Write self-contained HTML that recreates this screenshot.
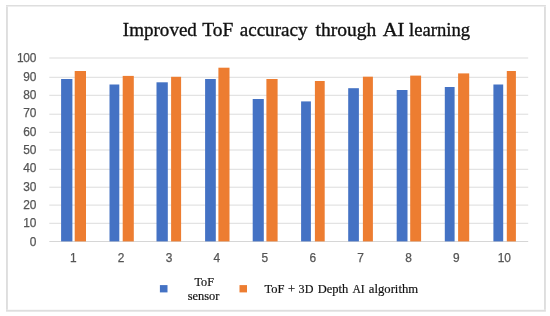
<!DOCTYPE html>
<html><head><meta charset="utf-8"><title>Improved ToF accuracy through AI learning</title>
<style>
html,body{margin:0;padding:0;background:#fff;}
body{width:550px;height:316px;position:relative;overflow:hidden;}
.yl{position:absolute;left:0;width:36px;text-align:right;letter-spacing:-0.25px;font:11.9px/12px "Liberation Sans",sans-serif;color:#555;-webkit-text-stroke:0.25px #555;height:12px;}
.xl{position:absolute;top:252.25px;width:30px;text-align:center;font:11.9px/12px "Liberation Sans",sans-serif;color:#555;-webkit-text-stroke:0.25px #555;height:12px;}
.t{position:absolute;white-space:nowrap;font-family:"Liberation Serif",serif;color:#111;}
.w{transform-origin:0 0;display:block;}
.title{font-size:19.2px;line-height:24px;-webkit-text-stroke:0.35px #111;}
.lg{font-size:13.4px;line-height:14px;-webkit-text-stroke:0.2px #111;}
</style></head><body>

<svg width="550" height="316" viewBox="0 0 550 316" style="position:absolute;left:0;top:0">
<rect x="6.00" y="5.00" width="539.90" height="1.50" fill="#dedede"/>
<rect x="6.00" y="309.80" width="539.90" height="1.90" fill="#dedede"/>
<rect x="6.00" y="6.50" width="1.90" height="303.30" fill="#dedede"/>
<rect x="544.00" y="6.50" width="1.90" height="303.30" fill="#dedede"/>
<rect x="49.30" y="57.50" width="478.90" height="1.00" fill="#dcdcdc"/>
<rect x="49.30" y="76.80" width="478.90" height="1.00" fill="#dcdcdc"/>
<rect x="49.30" y="94.80" width="478.90" height="1.00" fill="#dcdcdc"/>
<rect x="49.30" y="113.70" width="478.90" height="1.00" fill="#dcdcdc"/>
<rect x="49.30" y="131.80" width="478.90" height="1.00" fill="#dcdcdc"/>
<rect x="49.30" y="149.50" width="478.90" height="1.00" fill="#dcdcdc"/>
<rect x="49.30" y="168.80" width="478.90" height="1.00" fill="#dcdcdc"/>
<rect x="49.30" y="186.70" width="478.90" height="1.00" fill="#dcdcdc"/>
<rect x="49.30" y="204.60" width="478.90" height="1.00" fill="#dcdcdc"/>
<rect x="49.30" y="222.80" width="478.90" height="1.00" fill="#dcdcdc"/>
<rect x="49.30" y="241.00" width="478.90" height="1.00" fill="#d6d6d6"/>
<rect x="61.10" y="79.00" width="11.30" height="162.40" fill="#4472c4"/>
<rect x="74.70" y="71.00" width="11.30" height="170.40" fill="#ed7d31"/>
<rect x="109.50" y="84.50" width="9.80" height="156.90" fill="#4472c4"/>
<rect x="122.70" y="75.90" width="11.10" height="165.50" fill="#ed7d31"/>
<rect x="156.50" y="82.30" width="11.30" height="159.10" fill="#4472c4"/>
<rect x="171.10" y="76.80" width="10.00" height="164.60" fill="#ed7d31"/>
<rect x="205.10" y="79.00" width="10.70" height="162.40" fill="#4472c4"/>
<rect x="218.40" y="67.70" width="11.10" height="173.70" fill="#ed7d31"/>
<rect x="252.70" y="99.00" width="11.10" height="142.40" fill="#4472c4"/>
<rect x="266.40" y="79.00" width="11.20" height="162.40" fill="#ed7d31"/>
<rect x="301.10" y="101.40" width="9.80" height="140.00" fill="#4472c4"/>
<rect x="314.90" y="81.00" width="9.80" height="160.40" fill="#ed7d31"/>
<rect x="348.20" y="88.20" width="10.70" height="153.20" fill="#4472c4"/>
<rect x="362.90" y="76.70" width="10.00" height="164.70" fill="#ed7d31"/>
<rect x="396.70" y="90.00" width="10.80" height="151.40" fill="#4472c4"/>
<rect x="410.20" y="75.60" width="10.90" height="165.80" fill="#ed7d31"/>
<rect x="444.80" y="87.00" width="9.80" height="154.40" fill="#4472c4"/>
<rect x="458.10" y="73.40" width="11.10" height="168.00" fill="#ed7d31"/>
<rect x="493.40" y="84.50" width="9.80" height="156.90" fill="#4472c4"/>
<rect x="506.80" y="71.00" width="9.10" height="170.40" fill="#ed7d31"/>
<rect x="159.90" y="285.10" width="7.60" height="7.30" fill="#4472c4"/>
<rect x="239.50" y="285.10" width="7.50" height="7.30" fill="#ed7d31"/>
</svg>
<div class="yl" style="top:52.25px">100</div>
<div class="yl" style="top:70.60px">90</div>
<div class="yl" style="top:88.95px">80</div>
<div class="yl" style="top:107.30px">70</div>
<div class="yl" style="top:125.65px">60</div>
<div class="yl" style="top:144.00px">50</div>
<div class="yl" style="top:162.35px">40</div>
<div class="yl" style="top:180.70px">30</div>
<div class="yl" style="top:199.05px">20</div>
<div class="yl" style="top:217.40px">10</div>
<div class="yl" style="top:235.75px">0</div>
<div class="xl" style="left:58.25px">1</div>
<div class="xl" style="left:106.14px">2</div>
<div class="xl" style="left:154.02px">3</div>
<div class="xl" style="left:201.92px">4</div>
<div class="xl" style="left:249.81px">5</div>
<div class="xl" style="left:297.69px">6</div>
<div class="xl" style="left:345.59px">7</div>
<div class="xl" style="left:393.48px">8</div>
<div class="xl" style="left:441.37px">9</div>
<div class="xl" style="left:489.25px">10</div>
<div id="title">
<span class="t w title" id="t1" style="left:0;top:0;transform:translate(122.85px,18.0px) scaleX(0.9926);">Improved</span>
<span class="t w title" id="t2" style="left:0;top:0;transform:translate(202.32px,18.0px) scaleX(1.0132);">ToF</span>
<span class="t w title" id="t3" style="left:0;top:0;transform:translate(239.75px,18.0px) scaleX(0.9931);">accuracy</span>
<span class="t w title" id="t4" style="left:0;top:0;transform:translate(315.55px,18.0px) scaleX(1.0186);">through</span>
<span class="t w title" id="t5" style="left:0;top:0;transform:translate(382.73px,18.0px) scaleX(1.0725);">AI</span>
<span class="t w title" id="t6" style="left:0;top:0;transform:translate(409.08px,18.0px) scaleX(0.9719);">learning</span>
</div>
<span class="t w lg" id="a1" style="left:0;top:0;transform:translate(194.48px,275.0px) scaleX(0.9089);">ToF</span>
<span class="t w lg" id="a2" style="left:0;top:0;transform:translate(187.75px,289.1px) scaleX(0.9268);">sensor</span>
<span class="t w lg" id="b1" style="left:0;top:0;transform:translate(264.48px,282.0px) scaleX(0.9344);">ToF</span>
<span class="t w lg" id="b2" style="left:0;top:0;transform:translate(287.98px,282.0px) scaleX(0.9375);">+</span>
<span class="t w lg" id="b3" style="left:0;top:0;transform:translate(298.60px,282.0px) scaleX(0.9025);">3D</span>
<span class="t w lg" id="b4" style="left:0;top:0;transform:translate(317.77px,282.0px) scaleX(0.9348);">Depth</span>
<span class="t w lg" id="b5" style="left:0;top:0;transform:translate(352.48px,282.0px) scaleX(0.8681);">AI</span>
<span class="t w lg" id="b6" style="left:0;top:0;transform:translate(368.87px,282.0px) scaleX(0.9449);">algorithm</span>
</body></html>
